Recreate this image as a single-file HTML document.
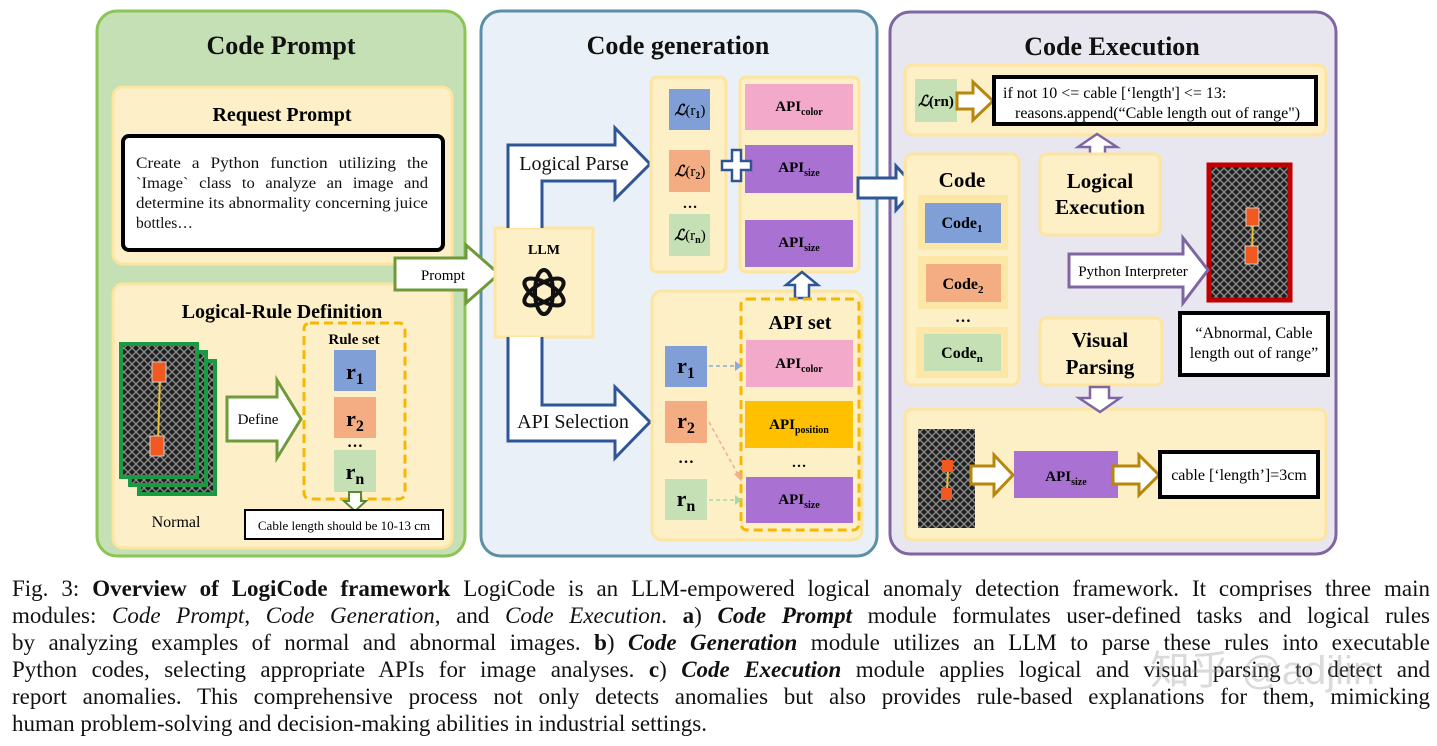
<!DOCTYPE html>
<html><head><meta charset="utf-8"><style>
body{margin:0;width:1437px;height:746px;background:#fff;overflow:hidden;position:relative;font-family:"Liberation Serif",serif}
svg{position:absolute;left:0;top:0}
.cap{position:absolute;left:12px;width:1418px;font-size:23px;line-height:27px;color:#111;text-align:justify;text-align-last:justify;white-space:nowrap}
.cap.last{text-align-last:left}
.wm{position:absolute;left:1150px;top:638px;font-size:40px;color:rgba(150,150,150,0.35);font-family:"Liberation Sans","Noto Sans CJK SC",sans-serif}
</style></head><body>
<svg width="1437" height="560" viewBox="0 0 1437 560" font-family="Liberation Serif, serif">
<defs>
<pattern id="mesh" width="8" height="8" patternUnits="userSpaceOnUse">
<rect width="8" height="8" fill="#1e1e1e"/>
<path d="M0 0L8 8M8 0L0 8" stroke="#8a8a8a" stroke-width="1.4"/>
</pattern>
</defs>
<rect x="97" y="11" width="368" height="545" rx="20" fill="#c5e0b4" stroke="#8cc455" stroke-width="3"/>
<rect x="481" y="11" width="396" height="545" rx="20" fill="#eaf0f8" stroke="#5a8fa6" stroke-width="3"/>
<rect x="890" y="12" width="446" height="542" rx="20" fill="#e8e6ef" stroke="#7f66a3" stroke-width="3"/>
<g font-weight="bold" font-size="26" text-anchor="middle" fill="#111">
<text x="281" y="54">Code Prompt</text>
<text x="678" y="54">Code generation</text>
<text x="1112" y="55">Code Execution</text>
</g>
<rect x="113" y="87" width="339" height="177" rx="10" fill="#fdf0c9" stroke="#fde5a0" stroke-width="3"/>
<text x="282" y="121" font-size="20" font-weight="bold" text-anchor="middle">Request Prompt</text>
<rect x="123" y="136" width="320" height="114" rx="6" fill="#fff" stroke="#000" stroke-width="4"/>
<g font-size="15.5" fill="#111">
<text x="136" y="168" textLength="292" lengthAdjust="spacingAndGlyphs" word-spacing="6">Create a Python function utilizing the</text>
<text x="136" y="188" textLength="292" lengthAdjust="spacingAndGlyphs" word-spacing="6">`Image` class to analyze an image and</text>
<text x="136" y="208" textLength="292" lengthAdjust="spacingAndGlyphs">determine its abnormality concerning juice</text>
<text x="136" y="228">bottles…</text>
</g>
<rect x="113" y="284" width="339" height="264" rx="10" fill="#fdf0c9" stroke="#fde5a0" stroke-width="3"/>
<text x="282" y="318" font-size="20" font-weight="bold" text-anchor="middle">Logical-Rule Definition</text>
<rect x="139" y="361" width="76" height="133" fill="url(#mesh)" stroke="#1a9a44" stroke-width="4"/>
<rect x="130" y="352" width="76" height="133" fill="url(#mesh)" stroke="#1a9a44" stroke-width="4"/>
<rect x="121" y="344" width="76" height="133" fill="url(#mesh)" stroke="#1a9a44" stroke-width="4"/>
<line x1="160" y1="375" x2="158" y2="445" stroke="#e8c030" stroke-width="2"/>
<rect x="152" y="362" width="14" height="20" fill="#f05a20" stroke="#ccc"/>
<rect x="150" y="436" width="14" height="20" fill="#f05a20" stroke="#ccc"/>
<text x="176" y="527" font-size="16" text-anchor="middle">Normal</text>
<path d="M227 397H277V380L301 419L277 458V441H227Z" fill="#fff" stroke="#6f9a3a" stroke-width="3"/>
<text x="258" y="424" font-size="15" text-anchor="middle">Define</text>
<rect x="304" y="323" width="101" height="176" rx="6" fill="none" stroke="#f6b700" stroke-width="3" stroke-dasharray="9,5"/>
<text x="354" y="344" font-size="15" font-weight="bold" text-anchor="middle">Rule set</text>
<rect x="334" y="350" width="42" height="41" fill="#7f9fd6"/>
<rect x="334" y="397" width="42" height="41" fill="#f4ad82"/>
<rect x="334" y="450" width="42" height="42" fill="#c5e0b4"/>
<g font-size="22" font-weight="bold" text-anchor="middle">
<text x="355" y="379">r<tspan font-size="16" dy="5">1</tspan></text>
<text x="355" y="426">r<tspan font-size="16" dy="5">2</tspan></text>
<text x="355" y="447" font-size="16">…</text>
<text x="355" y="479">r<tspan font-size="16" dy="5">n</tspan></text>
</g>
<path d="M349 492H361V501H366L355 511L344 501H349Z" fill="#fff" stroke="#5a8a30" stroke-width="2"/>
<rect x="245" y="510" width="198" height="29" fill="#fff" stroke="#000" stroke-width="2"/>
<text x="344" y="530" font-size="13" text-anchor="middle">Cable length should be 10-13 cm</text>
<path d="M395 258H466V245L499 274L466 303V290H395Z" fill="#fff" stroke="#6f9a3a" stroke-width="3"/>
<text x="443" y="280" font-size="15" text-anchor="middle">Prompt</text>
<rect x="495" y="228" width="98" height="109" fill="#fdefc6" stroke="#fde4a0" stroke-width="3"/>
<text x="544" y="254" font-size="14" font-weight="bold" text-anchor="middle">LLM</text>
<g fill="none" stroke="#111" stroke-width="4">
<ellipse cx="544" cy="292" rx="9" ry="22"/>
<ellipse cx="544" cy="292" rx="9" ry="22" transform="rotate(60 544 292)"/>
<ellipse cx="544" cy="292" rx="9" ry="22" transform="rotate(-60 544 292)"/>
</g>
<path d="M508 228V145H615V128L650 164L615 199V181H542V228" fill="#fff" stroke="#2f5597" stroke-width="3"/>
<text x="574" y="170" font-size="20" text-anchor="middle" fill="#111">Logical Parse</text>
<path d="M508 337V441H615V458L650 422L615 387V405H542V337" fill="#fff" stroke="#2f5597" stroke-width="3"/>
<text x="573" y="428" font-size="20" text-anchor="middle" fill="#111">API Selection</text>
<rect x="651" y="77" width="75" height="195" rx="6" fill="#fdefc6" stroke="#fde4a0" stroke-width="3"/>
<rect x="669" y="89" width="41" height="41" fill="#7f9fd6"/>
<rect x="669" y="150" width="41" height="42" fill="#f4ad82"/>
<rect x="669" y="214" width="41" height="42" fill="#c5e0b4"/>
<g font-size="15" font-weight="bold" text-anchor="middle" font-style="italic">
<text x="690" y="115">ℒ<tspan font-style="normal" font-weight="normal">(r</tspan><tspan font-size="10" dy="3" font-style="normal">1</tspan><tspan dy="-3" font-style="normal" font-weight="normal">)</tspan></text>
<text x="690" y="176">ℒ<tspan font-style="normal" font-weight="normal">(r</tspan><tspan font-size="10" dy="3" font-style="normal">2</tspan><tspan dy="-3" font-style="normal" font-weight="normal">)</tspan></text>
<text x="690" y="208" font-style="normal">…</text>
<text x="690" y="240">ℒ<tspan font-style="normal" font-weight="normal">(r</tspan><tspan font-size="10" dy="3" font-style="normal">n</tspan><tspan dy="-3" font-style="normal" font-weight="normal">)</tspan></text>
</g>
<rect x="740" y="77" width="119" height="195" rx="6" fill="#fdefc6" stroke="#fde4a0" stroke-width="3"/>
<rect x="745" y="84" width="108" height="46" fill="#f3a9c9"/>
<rect x="745" y="145" width="108" height="48" fill="#a871d2"/>
<rect x="745" y="220" width="108" height="47" fill="#a871d2"/>
<path d="M732 150H741V161H751V170H741V181H732V170H722V161H732Z" fill="#fff" stroke="#2f5597" stroke-width="2.5"/>
<g font-size="15" font-weight="bold" text-anchor="middle">
<text x="799" y="111">API<tspan font-size="10" dy="4">color</tspan></text>
<text x="799" y="172">API<tspan font-size="10" dy="4">size</tspan></text>
<text x="799" y="247">API<tspan font-size="10" dy="4">size</tspan></text>
</g>
<rect x="652" y="291" width="210" height="249" rx="10" fill="#fdefc6" stroke="#fde4a0" stroke-width="3"/>
<path d="M795 298V285H786L802 272L818 285H809V298Z" fill="#fff" stroke="#2f5597" stroke-width="2.5"/>
<rect x="741" y="299" width="118" height="231" rx="6" fill="none" stroke="#f6b700" stroke-width="3" stroke-dasharray="9,5"/>
<text x="800" y="329" font-size="20" font-weight="bold" text-anchor="middle">API set</text>
<rect x="746" y="340" width="107" height="47" fill="#f3a9c9"/>
<rect x="745" y="401" width="108" height="47" fill="#ffc000"/>
<rect x="746" y="477" width="107" height="46" fill="#a871d2"/>
<g font-size="15" font-weight="bold" text-anchor="middle">
<text x="799" y="368">API<tspan font-size="10" dy="4">color</tspan></text>
<text x="799" y="429">API<tspan font-size="10" dy="4">position</tspan></text>
<text x="799" y="467">…</text>
<text x="799" y="504">API<tspan font-size="10" dy="4">size</tspan></text>
</g>
<rect x="665" y="346" width="42" height="41" fill="#7f9fd6"/>
<rect x="665" y="401" width="42" height="42" fill="#f4ad82"/>
<rect x="665" y="479" width="42" height="41" fill="#c5e0b4"/>
<g font-size="22" font-weight="bold" text-anchor="middle">
<text x="686" y="373">r<tspan font-size="16" dy="5">1</tspan></text>
<text x="686" y="428">r<tspan font-size="16" dy="5">2</tspan></text>
<text x="686" y="463" font-size="16">…</text>
<text x="686" y="506">r<tspan font-size="16" dy="5">n</tspan></text>
</g>
<g stroke-width="1.5" stroke-dasharray="4,3" fill="none">
<path d="M709 366H738" stroke="#8faad8"/>
<path d="M709 422L740 478" stroke="#f0b090"/>
<path d="M709 500H738" stroke="#a8d8a8"/>
</g>
<path d="M735 361L742 366L735 371Z" fill="#8faad8"/>
<path d="M734 474L742 482L740 471Z" fill="#f0b090"/>
<path d="M735 495L742 500L735 505Z" fill="#a8d8a8"/>
<path d="M858 178H896V166L916 188L896 210V198H858Z" fill="#fff" stroke="#2f5597" stroke-width="3"/>
<rect x="905" y="65" width="421" height="70" rx="8" fill="#fdefc6" stroke="#fde4a0" stroke-width="3"/>
<rect x="915" y="79" width="42" height="43" fill="#c5e0b4"/>
<text x="936" y="106" font-size="15" font-weight="bold" text-anchor="middle"><tspan font-style="italic">ℒ</tspan>(rn)</text>
<path d="M957 93H973V82L993 101L973 120V109H957Z" fill="#fff" stroke="#b8860b" stroke-width="3"/>
<rect x="994" y="77" width="322" height="47" fill="#fff" stroke="#000" stroke-width="4"/>
<text x="1003" y="98" font-size="16">if not 10 &lt;= cable [‘length'] &lt;= 13:</text>
<text x="1015" y="118" font-size="16">reasons.append(“Cable length out of range")</text>
<path d="M1090 158V147H1078L1097 134L1117 147H1105V158Z" fill="#fff" stroke="#7f66a3" stroke-width="2.5"/>
<rect x="905" y="154" width="114" height="231" rx="8" fill="#fdefc6" stroke="#fde4a0" stroke-width="3"/>
<text x="962" y="187" font-size="21" font-weight="bold" text-anchor="middle">Code</text>
<rect x="918" y="195" width="90" height="55" fill="#fde7a6"/>
<rect x="925" y="203" width="76" height="40" fill="#7f9fd6"/>
<rect x="918" y="256" width="90" height="53" fill="#fde7a6"/>
<rect x="926" y="264" width="75" height="38" fill="#f4ad82"/>
<rect x="916" y="327" width="92" height="51" fill="#fde7a6"/>
<rect x="924" y="334" width="77" height="37" fill="#c5e0b4"/>
<g font-size="16" font-weight="bold" text-anchor="middle">
<text x="962" y="228">Code<tspan font-size="11" dy="4">1</tspan></text>
<text x="963" y="289">Code<tspan font-size="11" dy="4">2</tspan></text>
<text x="963" y="322">…</text>
<text x="962" y="358">Code<tspan font-size="11" dy="4">n</tspan></text>
</g>
<rect x="1040" y="154" width="120" height="81" rx="6" fill="#fdefc6" stroke="#fde4a0" stroke-width="3"/>
<text x="1100" y="188" font-size="21" font-weight="bold" text-anchor="middle">Logical</text>
<text x="1100" y="214" font-size="21" font-weight="bold" text-anchor="middle">Execution</text>
<rect x="1209" y="165" width="81" height="135" fill="url(#mesh)" stroke="#c00000" stroke-width="5"/>
<line x1="1253" y1="215" x2="1252" y2="255" stroke="#e8c030" stroke-width="2"/>
<rect x="1246" y="208" width="13" height="18" fill="#f05a20" stroke="#ccc"/>
<rect x="1245" y="246" width="13" height="18" fill="#f05a20" stroke="#ccc"/>
<path d="M1069 254H1183V238L1208 270L1183 303V287H1069Z" fill="#fff" stroke="#7f66a3" stroke-width="3"/>
<text x="1133" y="276" font-size="15" text-anchor="middle">Python Interpreter</text>
<rect x="1180" y="313" width="148" height="62" fill="#fff" stroke="#000" stroke-width="4"/>
<text x="1254" y="338" font-size="16" text-anchor="middle">“Abnormal, Cable</text>
<text x="1254" y="358" font-size="16" text-anchor="middle">length out of range”</text>
<rect x="1040" y="318" width="122" height="67" rx="6" fill="#fdefc6" stroke="#fde4a0" stroke-width="3"/>
<text x="1100" y="347" font-size="21" font-weight="bold" text-anchor="middle">Visual</text>
<text x="1100" y="374" font-size="21" font-weight="bold" text-anchor="middle">Parsing</text>
<rect x="905" y="409" width="421" height="131" rx="8" fill="#fdefc6" stroke="#fde4a0" stroke-width="3"/>
<path d="M1090 387V398H1079L1100 412L1120 398H1109V387Z" fill="#fff" stroke="#7f66a3" stroke-width="2.5"/>
<rect x="918" y="429" width="57" height="99" fill="url(#mesh)"/>
<line x1="948" y1="468" x2="947" y2="492" stroke="#e8c030" stroke-width="2"/>
<rect x="942" y="460" width="11" height="12" fill="#f05a20"/>
<rect x="941" y="488" width="11" height="12" fill="#f05a20"/>
<path d="M971 466H994V455L1013 475L994 495V484H971Z" fill="#fff" stroke="#b8860b" stroke-width="3"/>
<rect x="1014" y="451" width="104" height="47" fill="#a871d2"/>
<text x="1066" y="481" font-size="15" font-weight="bold" text-anchor="middle">API<tspan font-size="10" dy="4">size</tspan></text>
<path d="M1113 466H1139V455L1159 475L1139 495V484H1113Z" fill="#fff" stroke="#b8860b" stroke-width="3"/>
<rect x="1160" y="452" width="158" height="45" fill="#fff" stroke="#000" stroke-width="4"/>
<text x="1239" y="480" font-size="16" text-anchor="middle">cable [‘length’]=3cm</text>
</svg>
<div class="cap" style="top:575px">Fig. 3: <b>Overview of LogiCode framework</b> LogiCode is an LLM-empowered logical anomaly detection framework. It comprises three main</div>
<div class="cap" style="top:602px">modules: <i>Code Prompt</i>, <i>Code Generation</i>, and <i>Code Execution</i>. <b>a</b>) <b><i>Code Prompt</i></b> module formulates user-defined tasks and logical rules</div>
<div class="cap" style="top:629px">by analyzing examples of normal and abnormal images. <b>b</b>) <b><i>Code Generation</i></b> module utilizes an LLM to parse these rules into executable</div>
<div class="cap" style="top:656px">Python codes, selecting appropriate APIs for image analyses. <b>c</b>) <b><i>Code Execution</i></b> module applies logical and visual parsing to detect and</div>
<div class="cap" style="top:683px">report anomalies. This comprehensive process not only detects anomalies but also provides rule-based explanations for them, mimicking</div>
<div class="cap last" style="top:710px">human problem-solving and decision-making abilities in industrial settings.</div>
<div class="wm">知乎 @adjlin</div>
</body></html>
